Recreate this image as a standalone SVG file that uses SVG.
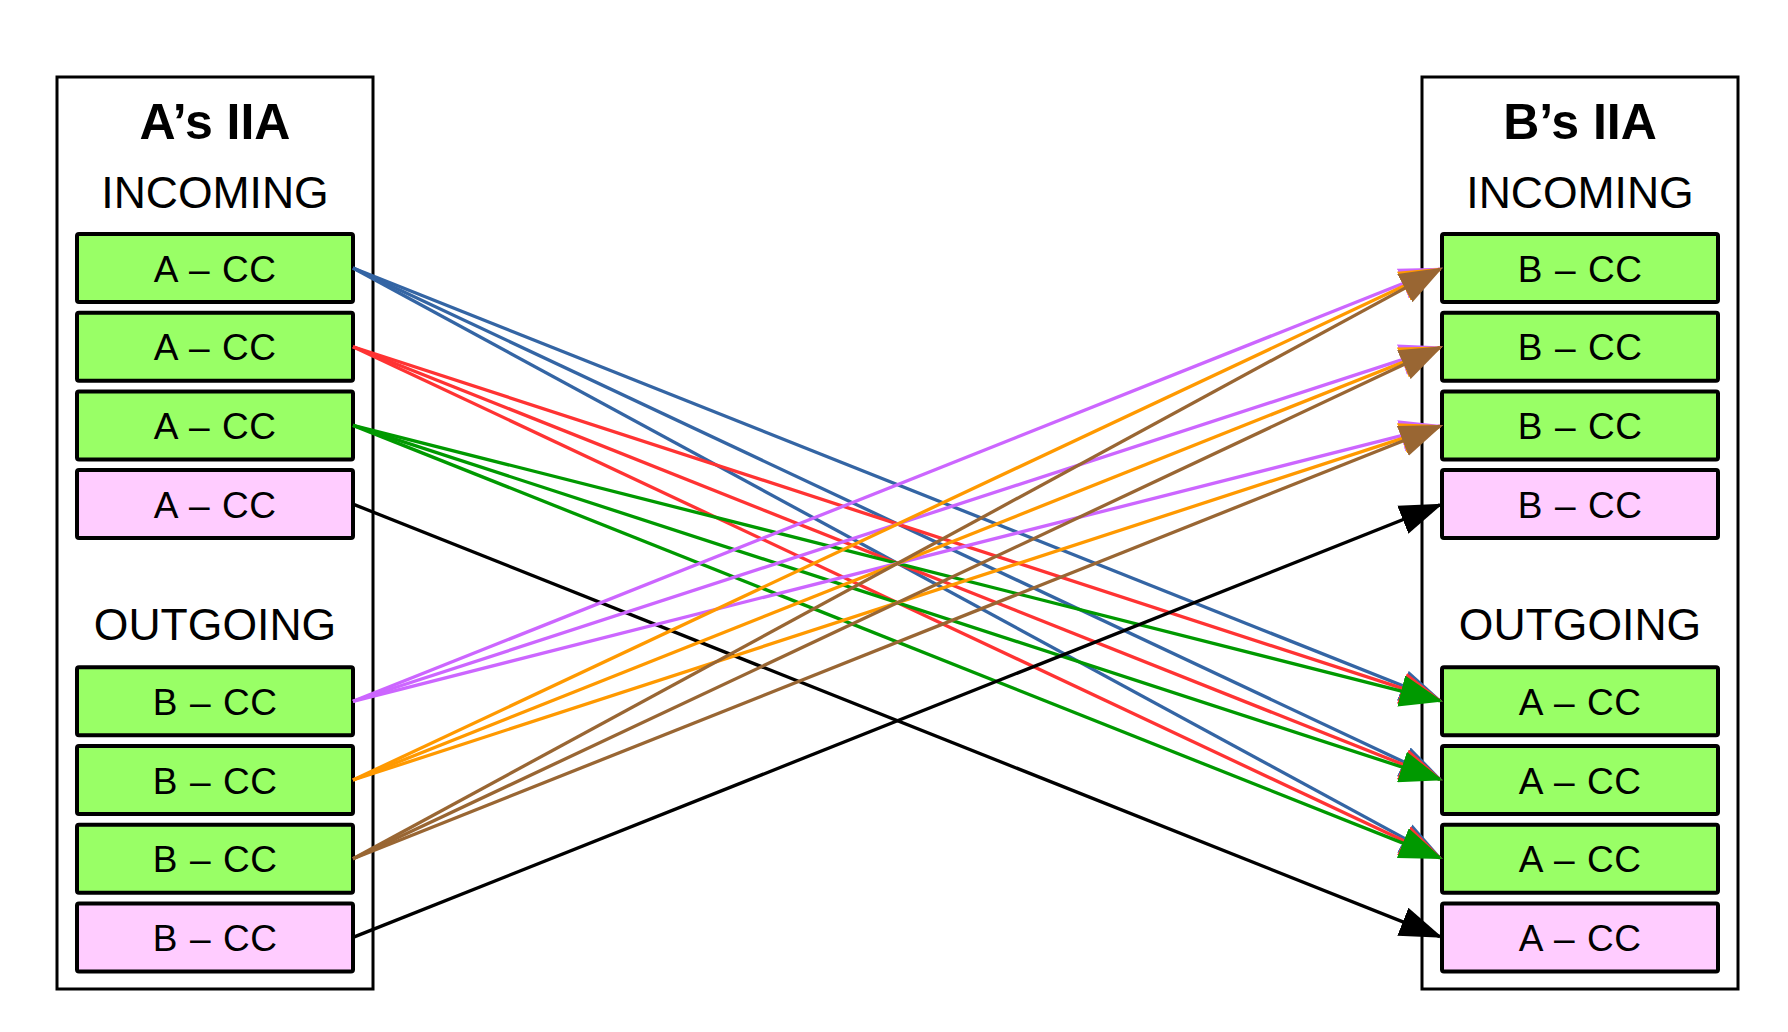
<svg xmlns="http://www.w3.org/2000/svg" width="1788" height="1032" viewBox="0 0 1788 1032">
<style>
.outer{fill:#ffffff;stroke:#000;stroke-width:3}
.g{fill:#99ff66;stroke:#000;stroke-width:4}
.p{fill:#ffccff;stroke:#000;stroke-width:4}
.title{font-family:"Liberation Sans",Arial,sans-serif;font-weight:bold;font-size:50px;text-anchor:middle;fill:#000}
.sec{font-family:"Liberation Sans",Arial,sans-serif;font-size:44.5px;text-anchor:middle;fill:#000}
.lbl{font-family:"Liberation Sans",Arial,sans-serif;font-size:37px;letter-spacing:0.4px;word-spacing:1.5px;text-anchor:middle;fill:#000}
.c line{stroke-width:3.3;fill:none}
.blue{stroke:#3465a4}
.red{stroke:#ff3333}
.green{stroke:#009900}
.black{stroke:#000000}
.purple{stroke:#cc66ff}
.orange{stroke:#ff9900}
.brown{stroke:#996633}
</style>
<defs>
<marker id="mBlue" markerUnits="userSpaceOnUse" markerWidth="43" markerHeight="32" viewBox="0 0 43 32" refX="40" refY="16" orient="auto"><path d="M0,0 L43,16 L0,32 z" fill="#3465a4"/></marker>
<marker id="mRed" markerUnits="userSpaceOnUse" markerWidth="43" markerHeight="32" viewBox="0 0 43 32" refX="40" refY="16" orient="auto"><path d="M0,0 L43,16 L0,32 z" fill="#ff3333"/></marker>
<marker id="mGreen" markerUnits="userSpaceOnUse" markerWidth="43" markerHeight="32" viewBox="0 0 43 32" refX="40" refY="16" orient="auto"><path d="M0,0 L43,16 L0,32 z" fill="#009900"/></marker>
<marker id="mBlack" markerUnits="userSpaceOnUse" markerWidth="43" markerHeight="32" viewBox="0 0 43 32" refX="40" refY="16" orient="auto"><path d="M0,1 L43,16 L0,31 z" fill="#000000"/></marker>
<marker id="mPurple" markerUnits="userSpaceOnUse" markerWidth="43" markerHeight="32" viewBox="0 0 43 32" refX="40" refY="16" orient="auto"><path d="M0,0 L43,16 L0,32 z" fill="#cc66ff"/></marker>
<marker id="mOrange" markerUnits="userSpaceOnUse" markerWidth="43" markerHeight="32" viewBox="0 0 43 32" refX="40" refY="16" orient="auto"><path d="M0,0 L43,16 L0,32 z" fill="#ff9900"/></marker>
<marker id="mBrown" markerUnits="userSpaceOnUse" markerWidth="43" markerHeight="32" viewBox="0 0 43 32" refX="40" refY="16" orient="auto"><path d="M0,0 L43,16 L0,32 z" fill="#996633"/></marker>
</defs>
<rect width="1788" height="1032" fill="#ffffff"/>

<g id="A-IIA">
<rect class="outer" x="57" y="77" width="316" height="912"/>
<text class="title" x="215" y="139">A’s IIA</text>
<text class="sec" x="215" y="207.5">INCOMING</text>
<text class="sec" x="215" y="639.5">OUTGOING</text>
</g>
<g id="A-in-1"><rect class="g" x="77" y="234" width="276" height="68" rx="2"/><text class="lbl" x="215" y="281.7">A – CC</text></g>
<g id="A-in-2"><rect class="g" x="77" y="312.7" width="276" height="68" rx="2"/><text class="lbl" x="215" y="360.4">A – CC</text></g>
<g id="A-in-3"><rect class="g" x="77" y="391.4" width="276" height="68" rx="2"/><text class="lbl" x="215" y="439.1">A – CC</text></g>
<g id="A-in-4"><rect class="p" x="77" y="470.1" width="276" height="68" rx="2"/><text class="lbl" x="215" y="517.8">A – CC</text></g>
<g id="A-out-1"><rect class="g" x="77" y="667.3" width="276" height="68" rx="2"/><text class="lbl" x="215" y="715">B – CC</text></g>
<g id="A-out-2"><rect class="g" x="77" y="746" width="276" height="68" rx="2"/><text class="lbl" x="215" y="793.7">B – CC</text></g>
<g id="A-out-3"><rect class="g" x="77" y="824.7" width="276" height="68" rx="2"/><text class="lbl" x="215" y="872.4">B – CC</text></g>
<g id="A-out-4"><rect class="p" x="77" y="903.4" width="276" height="68" rx="2"/><text class="lbl" x="215" y="951.1">B – CC</text></g>

<g id="B-IIA">
<rect class="outer" x="1422" y="77" width="316" height="912"/>
<text class="title" x="1580" y="139">B’s IIA</text>
<text class="sec" x="1580" y="207.5">INCOMING</text>
<text class="sec" x="1580" y="639.5">OUTGOING</text>
</g>
<g id="B-in-1"><rect class="g" x="1442" y="234" width="276" height="68" rx="2"/><text class="lbl" x="1580" y="281.7">B – CC</text></g>
<g id="B-in-2"><rect class="g" x="1442" y="312.7" width="276" height="68" rx="2"/><text class="lbl" x="1580" y="360.4">B – CC</text></g>
<g id="B-in-3"><rect class="g" x="1442" y="391.4" width="276" height="68" rx="2"/><text class="lbl" x="1580" y="439.1">B – CC</text></g>
<g id="B-in-4"><rect class="p" x="1442" y="470.1" width="276" height="68" rx="2"/><text class="lbl" x="1580" y="517.8">B – CC</text></g>
<g id="B-out-1"><rect class="g" x="1442" y="667.3" width="276" height="68" rx="2"/><text class="lbl" x="1580" y="715">A – CC</text></g>
<g id="B-out-2"><rect class="g" x="1442" y="746" width="276" height="68" rx="2"/><text class="lbl" x="1580" y="793.7">A – CC</text></g>
<g id="B-out-3"><rect class="g" x="1442" y="824.7" width="276" height="68" rx="2"/><text class="lbl" x="1580" y="872.4">A – CC</text></g>
<g id="B-out-4"><rect class="p" x="1442" y="903.4" width="276" height="68" rx="2"/><text class="lbl" x="1580" y="951.1">A – CC</text></g>

<g id="connectors" class="c">
<line class="blue" x1="353" y1="268" x2="1440" y2="700.5" marker-end="url(#mBlue)"/>
<line class="blue" x1="353" y1="268" x2="1440" y2="778.9" marker-end="url(#mBlue)"/>
<line class="blue" x1="353" y1="268" x2="1440" y2="857.6" marker-end="url(#mBlue)"/>
<line class="red" x1="353" y1="346.7" x2="1440" y2="700.6" marker-end="url(#mRed)"/>
<line class="red" x1="353" y1="346.7" x2="1440" y2="779.2" marker-end="url(#mRed)"/>
<line class="red" x1="353" y1="346.7" x2="1440" y2="857.8" marker-end="url(#mRed)"/>
<line class="green" x1="353" y1="425.4" x2="1440" y2="700.8" marker-end="url(#mGreen)"/>
<line class="green" x1="353" y1="425.4" x2="1440" y2="779.4" marker-end="url(#mGreen)"/>
<line class="green" x1="353" y1="425.4" x2="1440" y2="857.9" marker-end="url(#mGreen)"/>
<line class="black" x1="353" y1="504.1" x2="1440" y2="936.6" marker-end="url(#mBlack)"/>
<line class="purple" x1="353" y1="701.3" x2="1440" y2="268.8" marker-end="url(#mPurple)"/>
<line class="purple" x1="353" y1="701.3" x2="1440" y2="347.4" marker-end="url(#mPurple)"/>
<line class="purple" x1="353" y1="701.3" x2="1440" y2="425.9" marker-end="url(#mPurple)"/>
<line class="orange" x1="353" y1="780" x2="1440" y2="269.1" marker-end="url(#mOrange)"/>
<line class="orange" x1="353" y1="780" x2="1440" y2="347.5" marker-end="url(#mOrange)"/>
<line class="orange" x1="353" y1="780" x2="1440" y2="426.1" marker-end="url(#mOrange)"/>
<line class="brown" x1="353" y1="858.7" x2="1440" y2="269.1" marker-end="url(#mBrown)"/>
<line class="brown" x1="353" y1="858.7" x2="1440" y2="347.6" marker-end="url(#mBrown)"/>
<line class="brown" x1="353" y1="858.7" x2="1440" y2="426.2" marker-end="url(#mBrown)"/>
<line class="black" x1="353" y1="937.4" x2="1440" y2="504.9" marker-end="url(#mBlack)"/>
</g>
</svg>
